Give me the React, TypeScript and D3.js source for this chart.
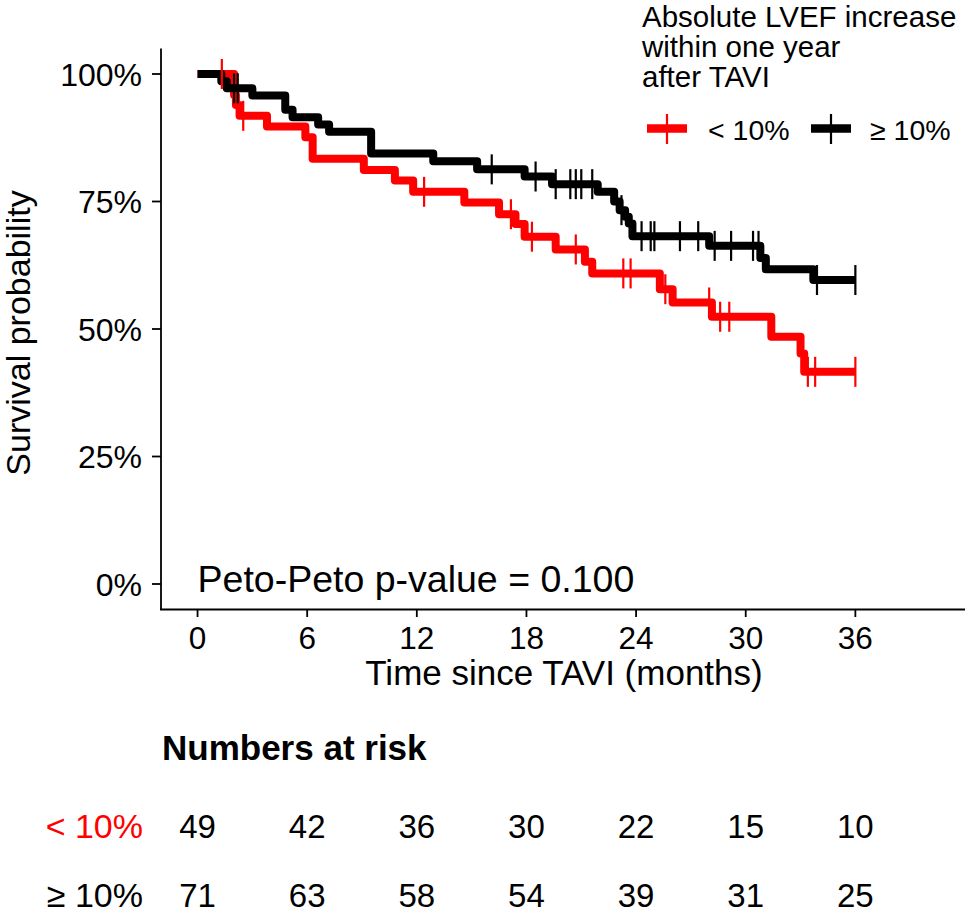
import * as d3 from 'd3'

// survival steps (percent)
const lowTimes = [0, 2.0, 2.1, 2.3, 3.8, 5.9, 6.3, 9.1, 10.8, 11.8, 14.6, 16.5, 17.4, 17.9, 19.6, 21.2, 21.6, 25.3, 26.0, 28.15, 31.4, 33.0, 33.2, 36]
const lowSurv = [100, 95.9, 93.9, 91.8, 89.7, 87.6, 83.4, 81.2, 79.1, 76.9, 74.8, 72.5, 70.6, 68.1, 65.6, 63.2, 60.9, 57.8, 55.2, 52.4, 48.5, 45.2, 41.6, 41.6]
const lowCensor = [1.33, 2.5, 12.4, 17.15, 18.3, 20.7, 23.3, 23.7, 25.6, 28.0, 28.6, 29.1, 33.4, 33.8, 36]

const highTimes = [0, 1.3, 1.6, 3.0, 4.8, 5.2, 6.6, 7.2, 9.5, 12.9, 15.3, 17.9, 19.4, 21.9, 22.8, 23.1, 23.4, 23.6, 23.8, 28.0, 30.8, 31.1, 33.7, 36]
const highSurv = [100, 98.6, 97.2, 95.8, 93.0, 91.5, 90.1, 88.7, 84.4, 82.9, 81.3, 79.9, 78.4, 76.9, 75.0, 73.3, 72.0, 70.7, 68.2, 66.3, 63.9, 61.7, 59.6, 59.6]
const highCensor = [2.0, 2.2, 16.1, 18.5, 19.6, 20.4, 20.7, 21.0, 21.6, 23.2, 24.3, 24.8, 25.0, 26.4, 27.4, 28.3, 29.2, 30.4, 30.7, 33.9, 36]

const xTicks = [0, 6, 12, 18, 24, 30, 36]
const yTicks = [0, 25, 50, 75, 100]
const riskLow = [49, 42, 36, 30, 22, 15, 10]
const riskHigh = [71, 63, 58, 54, 39, 31, 25]
const groupLabels = ['< 10%', '\u2265 10%']
const groupColors = ['#ff0000', '#000000']

const W = 967
const H = 914
const FONT = '"Liberation Sans", Arial, sans-serif'

const x = d3.scaleLinear().domain([-2, 42]).range([161, 965])
const y = d3.scaleLinear().domain([-5, 105]).range([609.5, 48.5])

function levelAt(times: number[], surv: number[], t: number) {
    const i = d3.bisectRight(times, t) - 1
    return surv[Math.max(0, i)]
}

const line = d3.line<[number, number]>()
    .x(d => x(d[0]))
    .y(d => y(d[1]))
    .curve(d3.curveStepAfter)

const series = [
    { times: lowTimes, surv: lowSurv, censor: lowCensor, color: groupColors[0] },
    { times: highTimes, surv: highSurv, censor: highCensor, color: groupColors[1] },
]

export default function App() {
    return (
        <svg width={W} height={H} style={{ position: 'absolute', left: 0, top: 0, background: '#fff' }}
            fontFamily={FONT}>
            <rect width={W} height={H} fill="#fff" />

            {/* axes */}
            <line x1={161} x2={161} y1={48.5} y2={610} stroke="#000" strokeWidth={1.8} />
            <line x1={160} x2={965} y1={609.5} y2={609.5} stroke="#000" strokeWidth={1.8} />
            {yTicks.map(v => (
                <g key={'y' + v}>
                    <line x1={152} x2={161} y1={y(v)} y2={y(v)} stroke="#000" strokeWidth={1.8} />
                    <text x={142} y={y(v) + 11.5} textAnchor="end" fontSize={32}>{v}%</text>
                </g>
            ))}
            {xTicks.map(v => (
                <g key={'x' + v}>
                    <line x1={x(v)} x2={x(v)} y1={609.5} y2={617} stroke="#000" strokeWidth={1.8} />
                    <text x={x(v)} y={649} textAnchor="middle" fontSize={31.5}>{v}</text>
                </g>
            ))}
            <text x={564} y={685} textAnchor="middle" fontSize={35}>Time since TAVI (months)</text>
            <text transform="translate(30,333) rotate(-90)" textAnchor="middle" fontSize={34}>Survival probability</text>

            {/* curves */}
            {series.map((s, i) => (
                <path key={'l' + i}
                    d={line(s.times.map((t, j) => [t, s.surv[j]] as [number, number])) || ''}
                    fill="none" stroke={s.color} strokeWidth={8} strokeLinejoin="round" />
            ))}
            {series.map((s, i) => (
                <g key={'c' + i}>
                    {s.censor.map((t, j) => (
                        <line key={j} x1={x(t)} x2={x(t)}
                            y1={y(levelAt(s.times, s.surv, t)) - 15}
                            y2={y(levelAt(s.times, s.surv, t)) + 15}
                            stroke={s.color} strokeWidth={2.2} />
                    ))}
                </g>
            ))}

            <text x={x(0)} y={592} fontSize={37.5}>Peto-Peto p-value = 0.100</text>

            {/* legend */}
            <text x={642} y={27} fontSize={29.5}>Absolute LVEF increase</text>
            <text x={642} y={57} fontSize={29.5}>within one year</text>
            <text x={642} y={87} fontSize={29.5}>after TAVI</text>
            {[0, 1].map(i => {
                const kx = i === 0 ? 647 : 811
                return (
                    <g key={'k' + i}>
                        <line x1={kx} x2={kx + 40} y1={128.5} y2={128.5} stroke={groupColors[i]} strokeWidth={8.5} />
                        <line x1={kx + 20} x2={kx + 20} y1={114} y2={144} stroke={groupColors[i]} strokeWidth={2.2} />
                        <text x={i === 0 ? 708 : 870} y={139.5} fontSize={28.5}>{groupLabels[i]}</text>
                    </g>
                )
            })}

            {/* numbers at risk */}
            <text x={162} y={760} fontSize={35} fontWeight="bold">Numbers at risk</text>
            {[riskLow, riskHigh].map((row, r) => (
                <g key={'r' + r}>
                    <text x={143} y={r === 0 ? 838 : 907} textAnchor="end" fontSize={34}
                        fill={groupColors[r]}>{groupLabels[r]}</text>
                    {row.map((n, j) => (
                        <text key={j} x={x(xTicks[j])} y={r === 0 ? 838 : 907} textAnchor="middle"
                            fontSize={33}>{n}</text>
                    ))}
                </g>
            ))}
        </svg>
    )
}
